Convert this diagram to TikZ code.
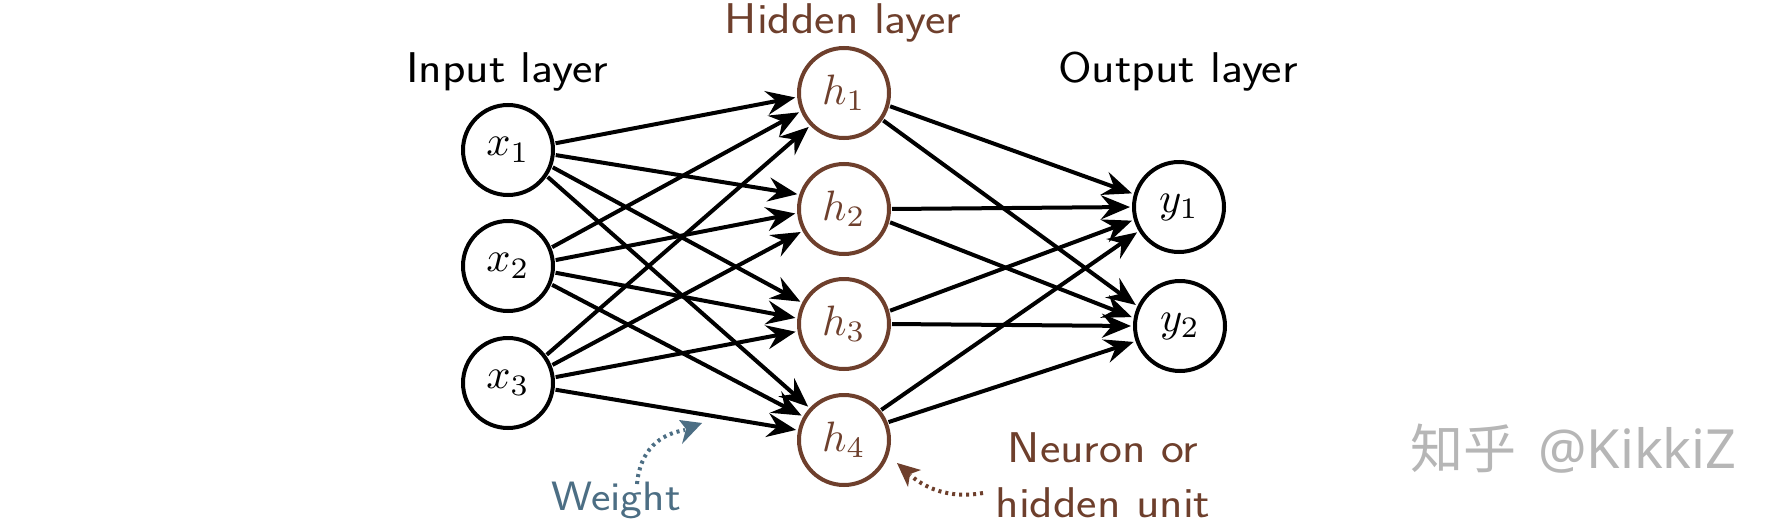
\documentclass[tikz,border=0pt]{standalone}
\usepackage{fontspec}
\usetikzlibrary{arrows.meta}
\newfontfamily\cjkwm{Noto Sans CJK SC}
\newfontfamily\wmfont{Noto Sans}
\newcommand{\bigmath}[1]{\scalebox{4.25}{$#1$}}
\newcommand{\wider}[1]{\scalebox{1.13}[1]{#1}}
\definecolor{hidbrown}{HTML}{6E3F2C}
\definecolor{wtblue}{HTML}{4C6E84}
\definecolor{wmgray}{HTML}{B6B6B6}
\tikzset{
  x=1pt,y=-1pt,
  neuron/.style={circle,draw,line width=4pt,minimum size=90pt,inner sep=0pt,fill=white},
  inunit/.style={neuron,draw=black,text=black},
  hidunit/.style={neuron,draw=hidbrown,text=hidbrown},
  link/.style={line width=4pt,-{Stealth[length=29pt,width=24pt,inset=10pt]},shorten <=1pt,shorten >=2pt},
  lab/.style={anchor=base,inner sep=0pt,font=\sffamily\fontsize{43}{43}\selectfont},
  note/.style={line width=4pt,dash pattern=on 3pt off 4pt}
}
\begin{document}
\begin{tikzpicture}
\useasboundingbox[fill=white] (0,0) rectangle (1783,522);
\node[inunit] (x1) at (508,150) {\bigmath{x_1}};
\node[inunit] (x2) at (508,266) {\bigmath{x_2}};
\node[inunit] (x3) at (508,383) {\bigmath{x_3}};
\node[hidunit] (h1) at (844,93) {\bigmath{h_1}};
\node[hidunit] (h2) at (844,209) {\bigmath{h_2}};
\node[hidunit] (h3) at (844,324) {\bigmath{h_3}};
\node[hidunit] (h4) at (844,440) {\bigmath{h_4}};
\node[inunit] (y1) at (1179,207) {\bigmath{y_1}};
\node[inunit] (y2) at (1180,326) {\bigmath{y_2}};
\foreach \a/\sa/\b/\ea in {
  x1/8/h1/185, x1/-6/h2/162, x1/-21/h3/153, x1/-34/h4/137,
  x2/23/h1/203, x2/7/h2/185, x2/-8/h3/173, x2/-23/h4/150,
  x3/36/h1/224, x3/22/h2/208, x3/7/h3/189, x3/-8/h4/168,
  h1/-16/y1/164, h1/-35/y2/155,
  h2/0/y1/180, h2/-16/y2/170,
  h3/16/y1/196, h3/0/y2/180,
  h4/39/y1/211, h4/22/y2/199}
  \draw[link] (\a.\sa) -- (\b.\ea);
\node[lab] (inlab) at (507,82) {\wider{Input layer}};
\node[lab,text=hidbrown] (hidlab) at (843,34) {\wider{Hidden layer}};
\node[lab] (outlab) at (1178,82) {\wider{Output layer}};
\node[lab,text=wtblue,font=\sffamily\fontsize{41}{41}\selectfont] (wtlab) at (616,510) {\wider{Weight}};
\node[lab,text=hidbrown] (neu1) at (1103,462) {\wider{Neuron or}};
\node[lab,text=hidbrown] (neu2) at (1103,517) {\wider{hidden unit}};
\coordinate (wttip) at (702,423);
\coordinate (wtstart) at (637,484);
\coordinate (neustart) at (983,493);
\coordinate (neutip) at (897,463);
\draw[note,draw=wtblue] (wtstart) .. controls (640,450) and (660,434) .. (685,430);
\fill[wtblue] (wttip) -- (679,420) -- (686,429) -- (682,444) -- cycle;
\draw[note,draw=hidbrown] (neustart) .. controls (955,498) and (930,492) .. (910,475);
\fill[hidbrown] (neutip) -- (921,470) -- (910,474) -- (908,487) -- cycle;
\node[anchor=base west,inner sep=0pt,text=wmgray,font=\cjkwm\fontsize{53}{53}\selectfont] (wm1) at (1410,468) {知乎};
\node[anchor=base west,inner sep=0pt,text=wmgray,font=\wmfont\fontsize{54}{54}\selectfont] (wm2) at (1538,468) {@KikkiZ};
\end{tikzpicture}
\end{document}
